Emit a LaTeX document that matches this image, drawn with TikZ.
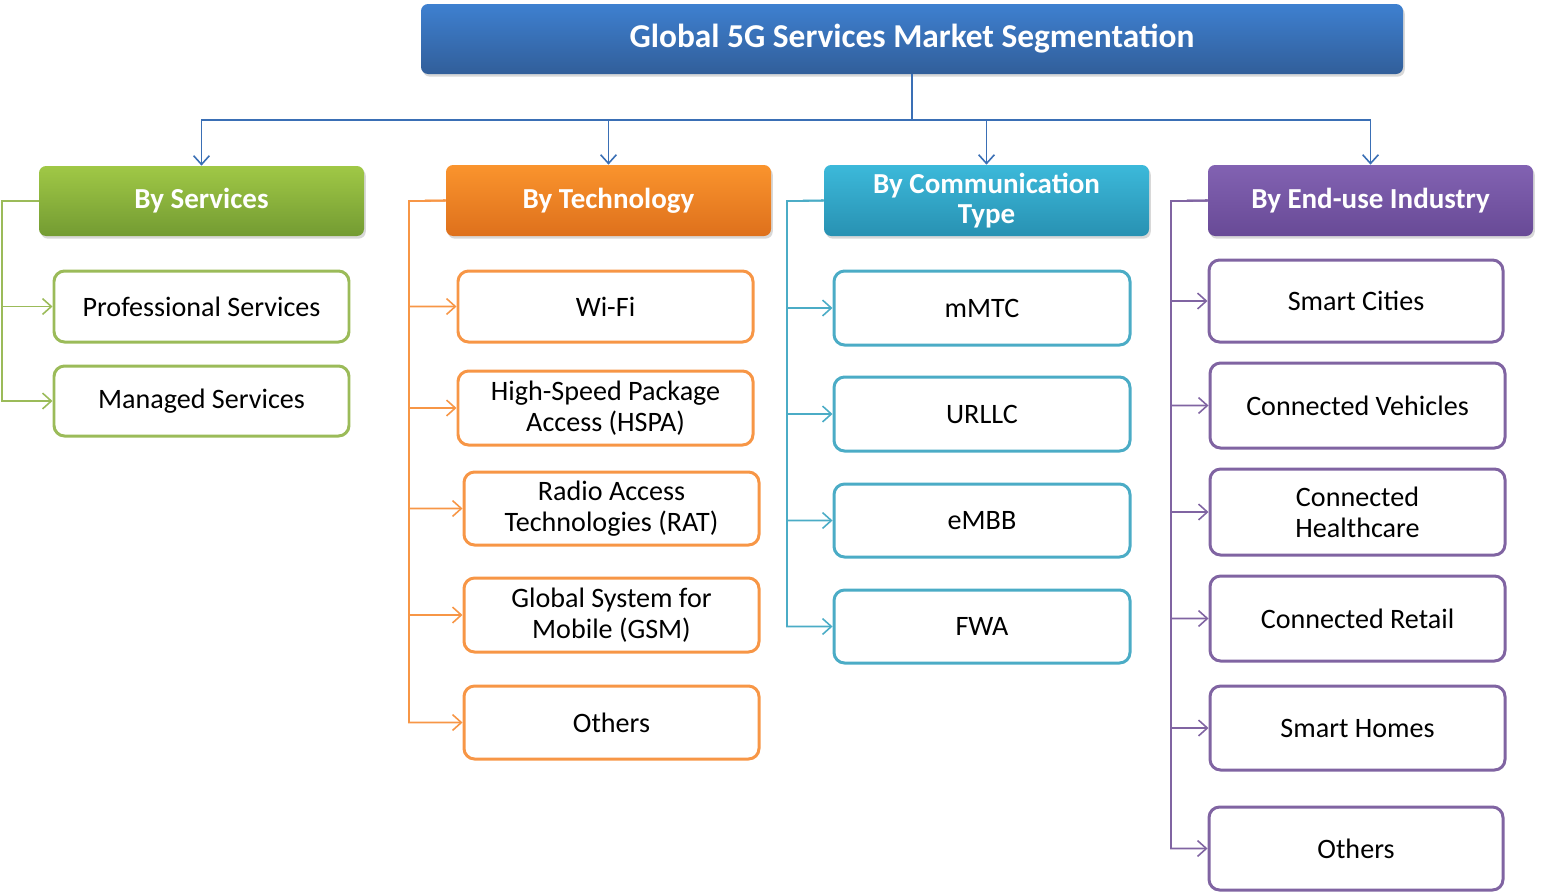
\documentclass[tikz,border=0pt]{standalone}
\usepackage{fontspec}
\setmainfont{Carlito}
\usetikzlibrary{arrows.meta,shadows}
\definecolor{cg}{HTML}{9BBB59}\definecolor{co}{HTML}{F79646}
\definecolor{cb}{HTML}{4BACC6}\definecolor{cp}{HTML}{8064A2}
\definecolor{ct}{HTML}{3A6FB5}
\tikzset{
 hdr/.style={rounded corners=4pt,draw=none,text=white,font=\bfseries\fontsize{16.5}{17}\selectfont,align=center,drop shadow={shadow xshift=1pt,shadow yshift=-1.5pt,fill=black!30}},
 box/.style={rounded corners=6pt,draw=#1,line width=1.7pt,fill=white,font=\fontsize{16}{17.5}\selectfont,align=center},
 con/.style={draw=#1,line width=0.9pt,-{Straight Barb[length=5pt,width=9pt]}},
}
\newcommand\bx[7]{\node[#1,minimum width={(#3-#2)*0.02cm},minimum height={(#5-#4)*0.02cm},inner sep=0pt] (#6) at ({(#2+#3)/2},{(#4+#5)/2}) {#7};}
\begin{document}
\begin{tikzpicture}[x=0.02cm,y=-0.02cm]
\useasboundingbox (0,0) rectangle (1541,893);
\bx{hdr,bottom color=ct!85!black,top color={rgb,255:red,62;green,128;blue,208}}{421}{1403}{4}{74}{t}{\fontsize{19}{20}\selectfont Global 5G Services Market Segmentation}
\bx{hdr,top color={rgb,255:red,160;green,200;blue,70},bottom color={rgb,255:red,115;green,155;blue,50}}{39}{364}{166}{236}{hs}{By Services}
\bx{hdr,top color={rgb,255:red,250;green,148;blue,45},bottom color={rgb,255:red,222;green,112;blue,28}}{446}{771}{165}{236}{ht}{By Technology}
\bx{hdr,top color={rgb,255:red,60;green,185;blue,218},bottom color={rgb,255:red,40;green,145;blue,178}}{824}{1149}{165}{236}{hc}{By Communication\\Type}
\bx{hdr,top color={rgb,255:red,130;green,98;blue,178},bottom color={rgb,255:red,104;green,74;blue,150}}{1208}{1533}{165}{236}{he}{By End-use Industry}
\foreach \h in {hs,ht,hc,he} \draw[con=ct] (t.south) -- (912,120) -| (\h.north);
% services
\bx{box=cg}{54}{349}{271}{342}{s1}{Professional Services}
\bx{box=cg}{54}{349}{366}{436}{s2}{Managed Services}
\foreach \c in {s1,s2} \draw[con=cg] (hs.west) -- (2,201) |- (\c.west);
% technology
\bx{box=co}{458}{753}{271}{342}{t1}{Wi-Fi}
\bx{box=co}{458}{753}{371}{445}{t2}{High-Speed Package\\Access (HSPA)}
\bx{box=co}{464}{759}{472}{545}{t3}{Radio Access\\Technologies (RAT)}
\bx{box=co}{464}{759}{578}{652}{t4}{Global System for\\Mobile (GSM)}
\bx{box=co}{464}{759}{686}{759}{t5}{Others}
\foreach \c in {t1,t2,t3,t4,t5} \draw[con=co] (ht.west) -- (409,201) |- (\c.west);
% communication
\bx{box=cb}{834}{1130}{271}{345}{c1}{mMTC}
\bx{box=cb}{834}{1130}{377}{451}{c2}{URLLC}
\bx{box=cb}{834}{1130}{484}{557}{c3}{eMBB}
\bx{box=cb}{834}{1130}{590}{663}{c4}{FWA}
\foreach \c in {c1,c2,c3,c4} \draw[con=cb] (hc.west) -- (787,201) |- (\c.west);
% end use
\bx{box=cp}{1209}{1503}{260}{342}{e1}{Smart Cities}
\bx{box=cp}{1210}{1505}{363}{448}{e2}{Connected Vehicles}
\bx{box=cp}{1210}{1505}{469}{555}{e3}{Connected\\Healthcare}
\bx{box=cp}{1210}{1505}{576}{661}{e4}{Connected Retail}
\bx{box=cp}{1210}{1505}{686}{770}{e5}{Smart Homes}
\bx{box=cp}{1209}{1503}{807}{890}{e6}{Others}
\foreach \c in {e1,e2,e3,e4,e5,e6} \draw[con=cp] (he.west) -- (1171,201) |- (\c.west);
\end{tikzpicture}
\end{document}
